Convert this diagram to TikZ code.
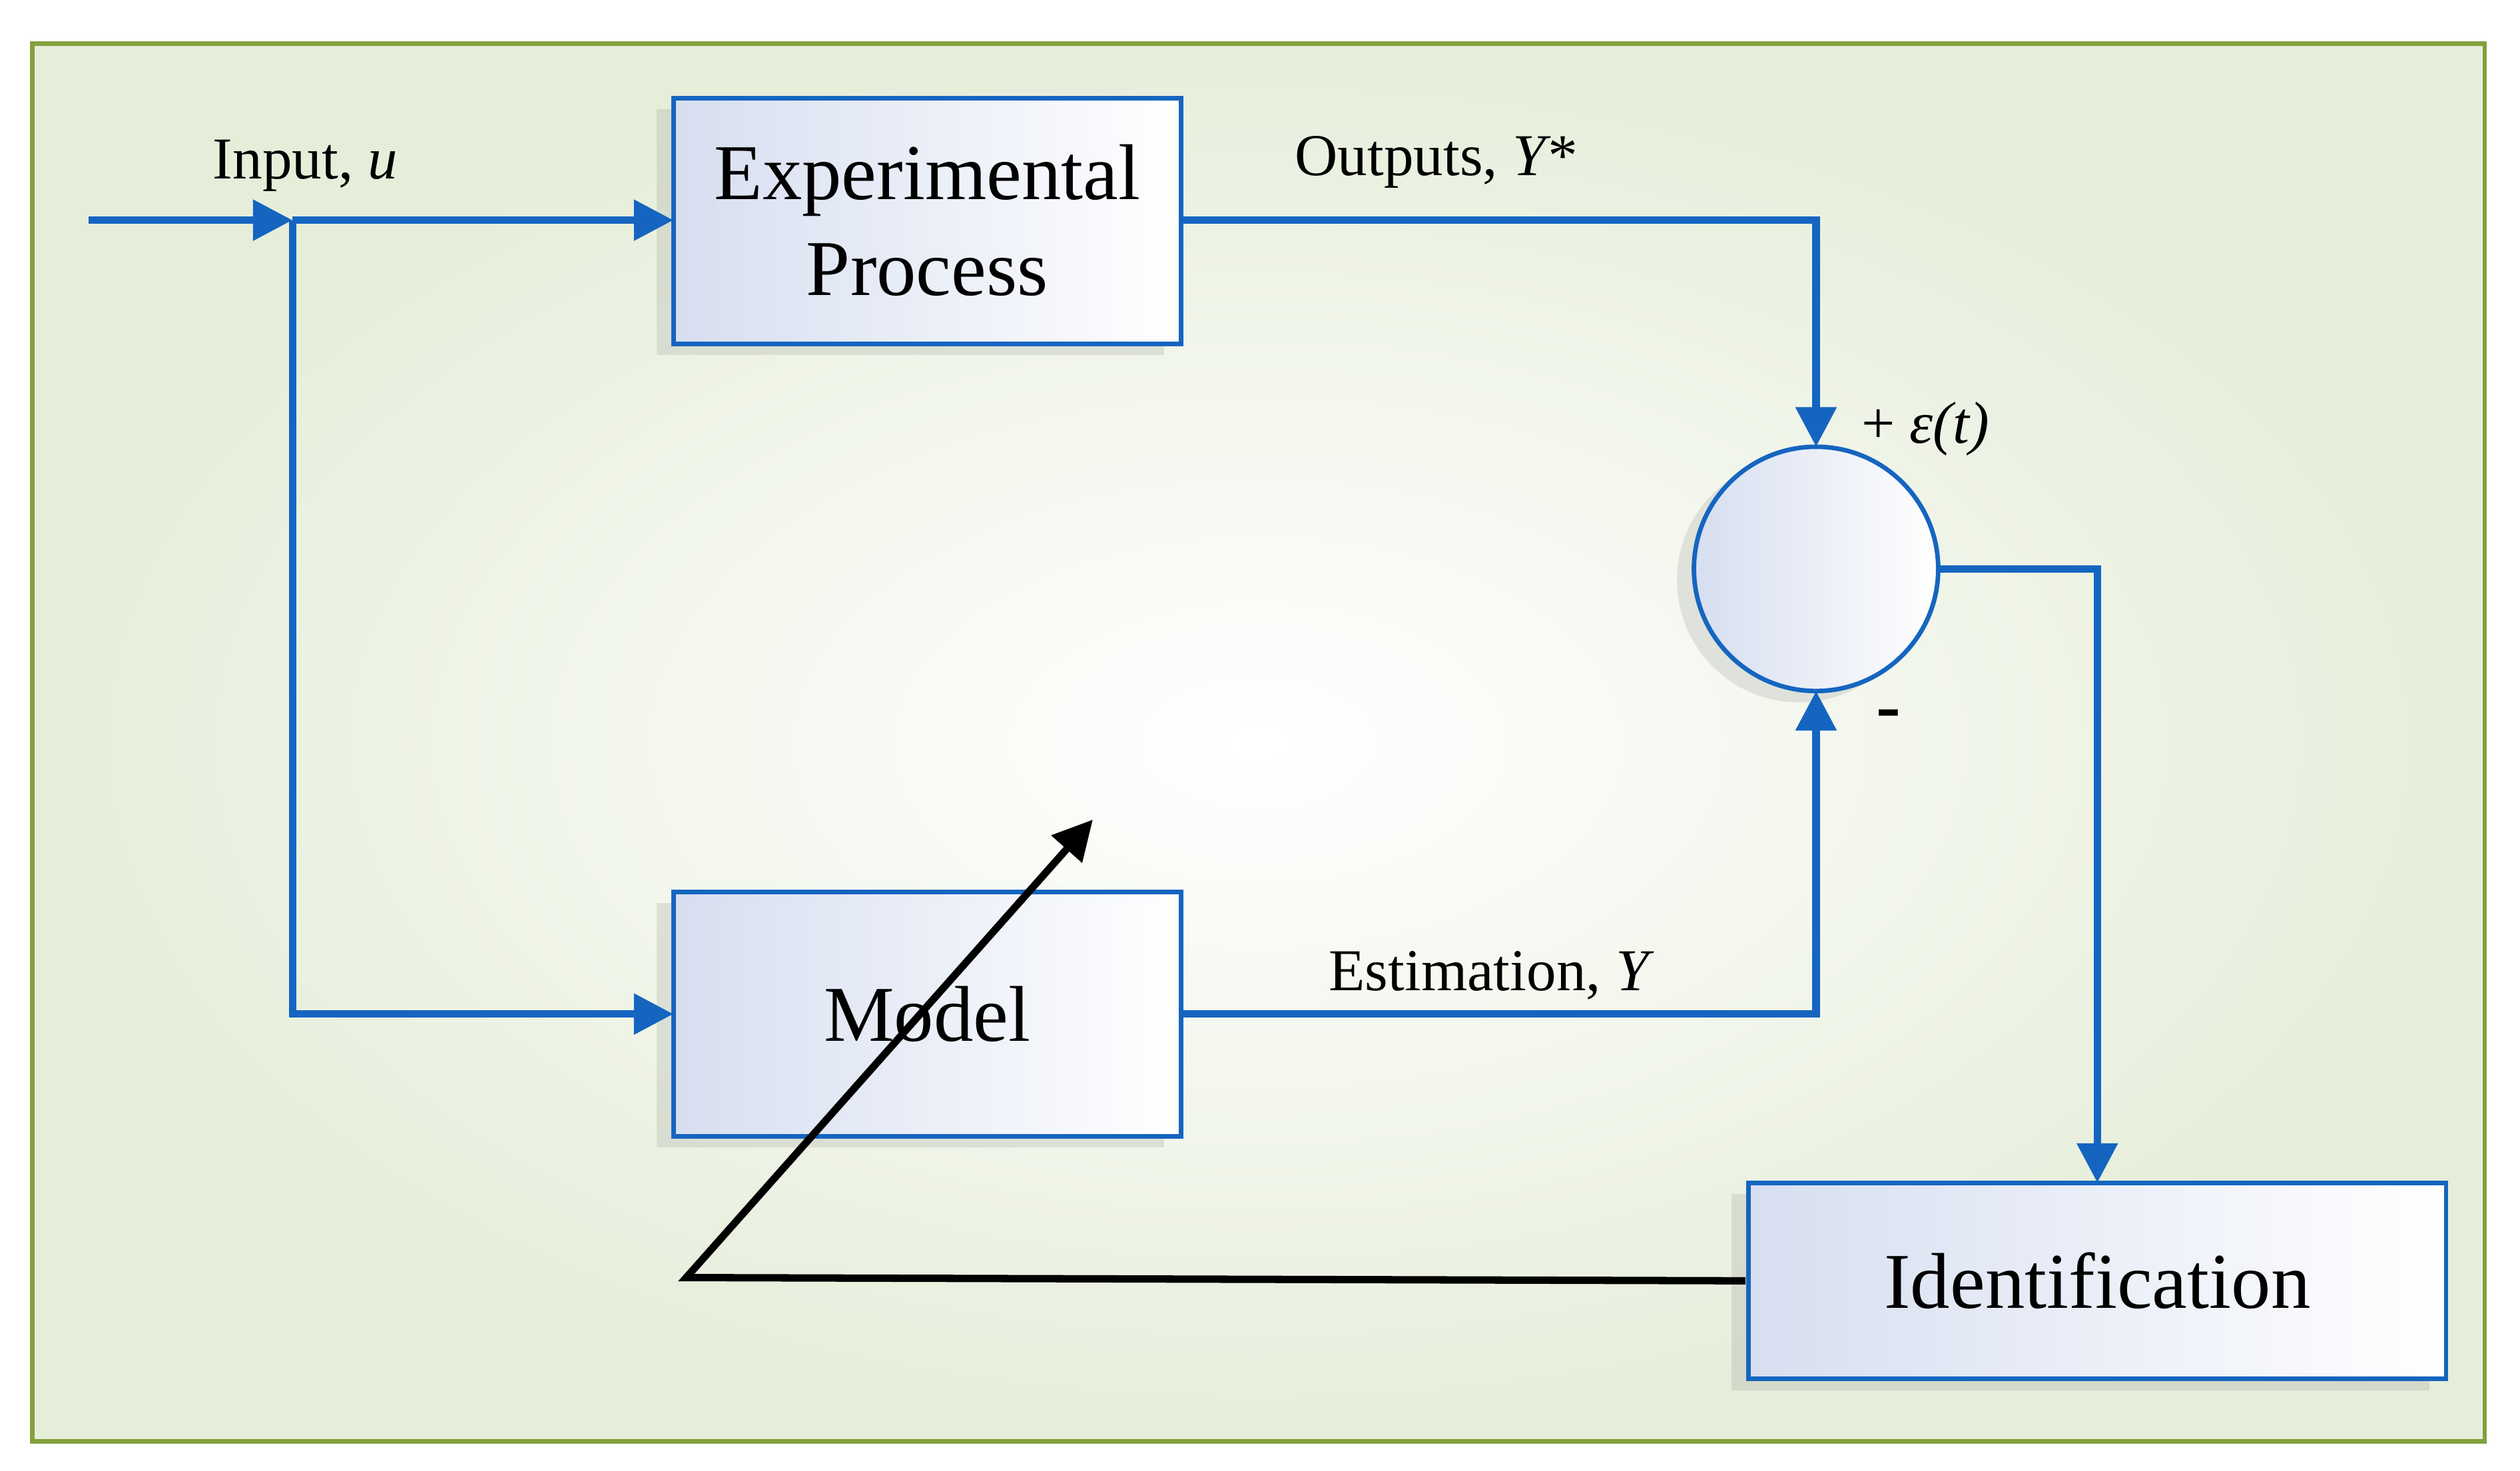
\documentclass[tikz,border=0pt]{standalone}
\usepackage{fontspec}
\setmainfont{Liberation Serif}
\usetikzlibrary{arrows.meta,shadows,decorations.markings}
\definecolor{lb}{RGB}{21,101,192}
\definecolor{bord}{RGB}{130,160,60}
\definecolor{bgg}{RGB}{230,238,218}
\definecolor{boxl}{RGB}{214,222,240}
\begin{document}
\begin{tikzpicture}[x=0.01cm,y=-0.01cm,
 box/.style={draw=lb,line width=0.8pt,left color=boxl,right color=white,
   drop shadow={shadow xshift=-3pt,shadow yshift=-2pt,opacity=0.18}},
 conn/.style={draw=lb,line width=1.3pt},
 arr/.style={conn,-{Triangle[length=7pt,width=7pt]}},
 lab/.style={font=\fontsize{10.5}{13}\selectfont},
 big/.style={font=\fontsize{14}{17}\selectfont,align=center}]
\useasboundingbox (0,0) rectangle (1568,915);
\fill[bgg] (20,27) rectangle (1546,897);
\shade[inner color=white,outer color=bgg] (20,27) rectangle (1546,897);
\draw[bord,line width=0.8pt] (20,27) rectangle (1546,897);
\path[box] (419,61) rectangle (735,214);
\node[big] (ep) at (577,137) {Experimental\\Process};
\path[box] (419,555) rectangle (735,707);
\node[big] (md) at (577,631) {Model};
\path[box] (1088,736) rectangle (1522,858);
\node[big] (id) at (1305,797) {Identification};
\shade[draw=lb,line width=0.8pt,left color=boxl,right color=white,
  drop shadow={shadow xshift=-3pt,shadow yshift=-2pt,opacity=0.18}] (1130,354) circle (76);
\coordinate (ct) at (1130,278);
\coordinate (cb) at (1130,430);
\coordinate (cr) at (1206,354);
\coordinate (in) at (55,137);
\coordinate (br) at (182,137);
\coordinate (epl) at (419,137);
\coordinate (mdl) at (419,631);
\coordinate (epr) at (735,137);
\coordinate (mdr) at (735,631);
\coordinate (idt) at (1305,736);
\coordinate (idl) at (1086,797);
\coordinate (k) at (427,795);
\coordinate (tip) at (680,510);
\draw[arr] (in) -- (br);
\draw[arr] (br) -- (epl);
\draw[arr] (br) -- (182,631) -- (mdl);
\draw[arr] (epr) -| (ct);
\draw[arr] (mdr) -| (cb);
\draw[arr] (cr) -| (idt);
\draw[line width=1.3pt,-{Triangle[length=7pt,width=7pt]}] (idl) -- (k) -- (tip);
\node[lab] (l1) at (190,103) {Input, \textit{u}};
\node[lab] (l2) at (893,101) {Outputs, \textit{Y*}};
\node[lab] (l3) at (1198,267) {+ \textit{ε(t)}};
\node[lab,font=\fontsize{13}{16}\selectfont\bfseries] (l4) at (1175,448) {-};
\node[lab] (l5) at (928,607) {Estimation, \textit{Y}};
\end{tikzpicture}
\end{document}
